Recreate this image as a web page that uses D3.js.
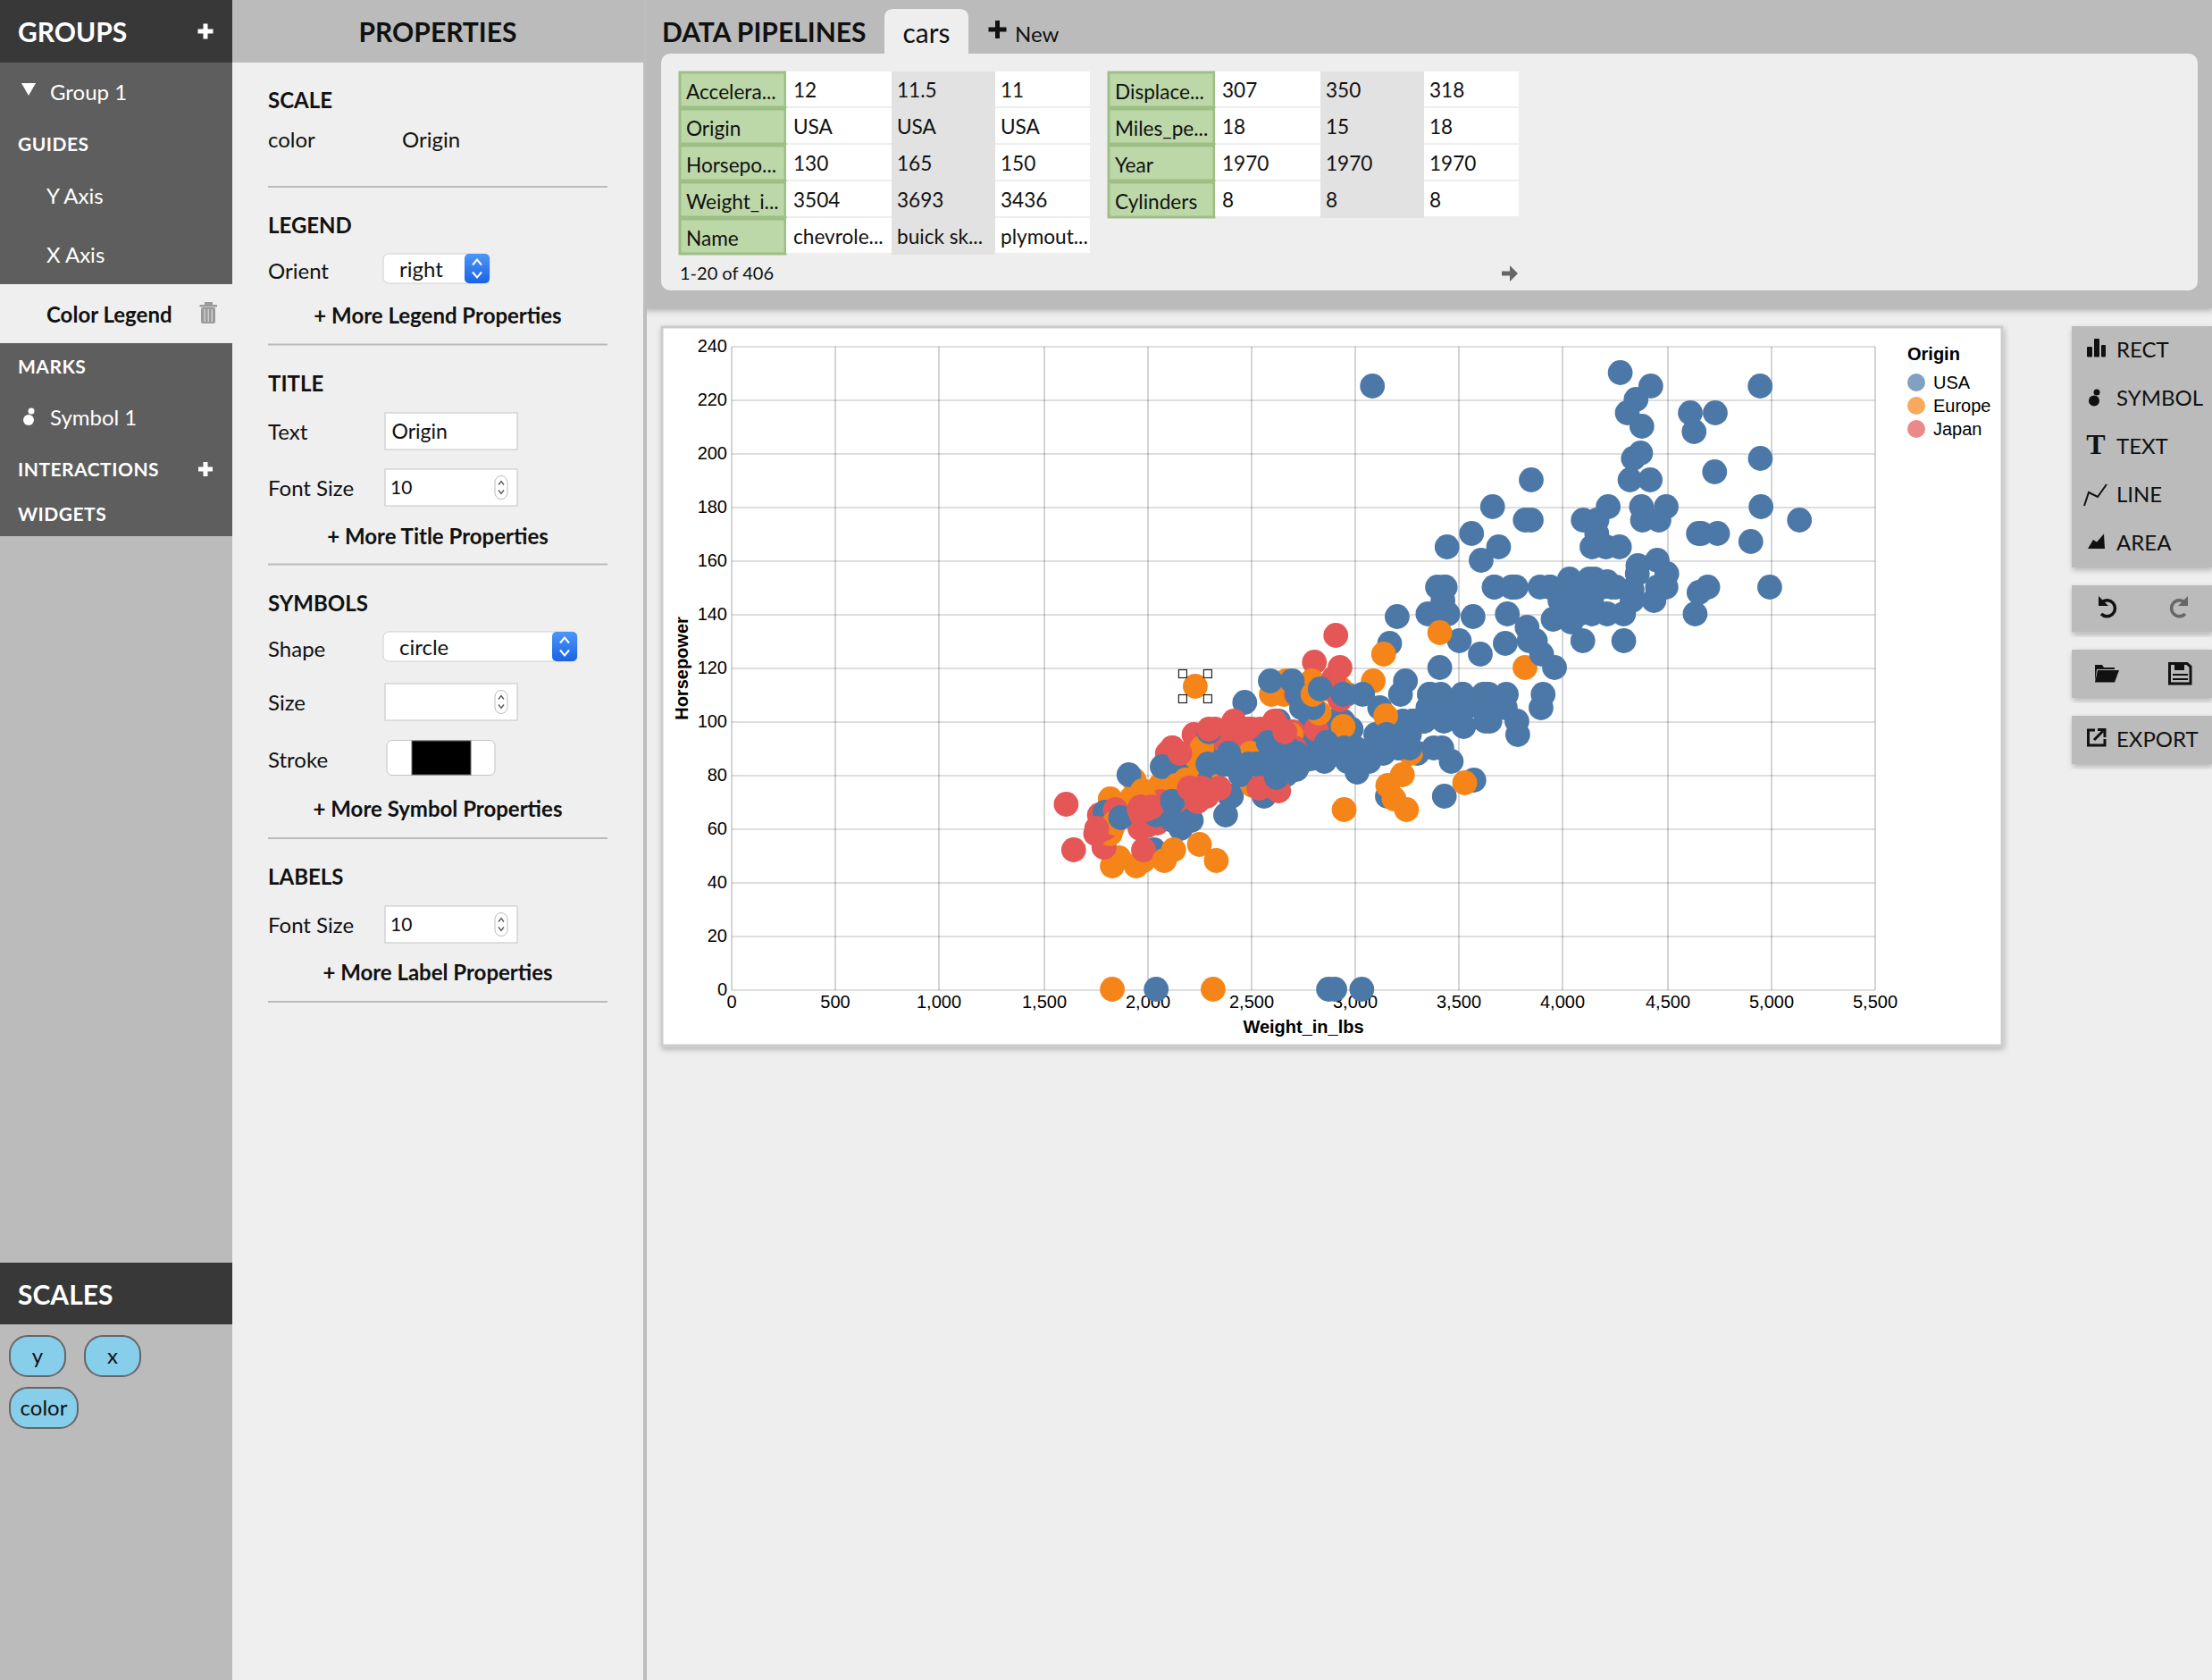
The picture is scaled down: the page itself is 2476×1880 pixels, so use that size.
<!DOCTYPE html>
<html>
<head>
<meta charset="utf-8">
<script src="https://cdn.jsdelivr.net/npm/d3@7"></script>
<style>
html,body{margin:0;padding:0;background:#eee;overflow:hidden}
svg{display:block}
text{font-family:Lato,sans-serif;white-space:pre}
.vega text{font-family:"Liberation Sans",Arial,sans-serif}
</style>
</head>
<body>
<svg id="app" width="2476" height="1880"></svg>
<script>
// ---------- chart data (draw order) ----------
const origins = ["USA", "Europe", "Japan"];
const originColors = ["#4c78a8", "#f58518", "#e45756"];
const xTicks = [0,500,1000,1500,2000,2500,3000,3500,4000,4500,5000,5500];
const yTicks = [0,20,40,60,80,100,120,140,160,180,200,220,240];
const horsepower = [
130,165,150,150,140,198,220,215,225,190,
115,165,153,175,175,170,160,140,150,225,
95,95,97,85,88,46,87,90,95,113,
90,215,200,210,193,88,90,95,null,48,100,
105,100,88,100,165,175,153,150,180,170,
175,110,72,100,88,86,90,70,76,65,
69,60,70,95,80,54,90,86,165,175,
150,153,150,208,155,160,190,97,150,130,
140,150,112,76,87,69,86,92,97,80,
88,175,150,145,137,150,198,150,158,150,
215,225,175,105,100,100,88,95,46,150,
167,170,180,100,88,72,94,90,85,107,
90,145,230,49,75,91,112,150,110,122,
180,95,null,100,100,67,80,65,75,100,
110,105,140,150,150,140,150,83,67,78,
52,61,75,75,75,97,93,67,95,105,
72,72,170,145,150,148,110,105,110,95,
110,110,129,75,83,100,78,96,71,97,
97,70,90,95,88,98,115,53,86,81,
92,79,83,140,150,120,152,100,105,81,
90,52,60,70,53,100,78,110,95,71,
70,75,72,102,150,88,108,120,180,145,
130,150,68,80,58,96,70,145,110,145,
130,110,105,100,98,180,170,190,149,78,
88,75,89,63,83,67,78,97,110,110,
48,66,52,70,60,110,140,139,105,95,
90,85,88,100,90,105,85,110,120,145,165,
139,140,68,95,97,75,95,105,85,97,
103,125,115,133,71,68,115,85,88,90,
110,130,129,138,135,155,142,125,150,71,
65,80,80,77,125,71,90,70,70,65,
69,90,115,115,90,76,60,70,65,90,
88,90,90,78,75,92,75,65,105,
65,48,48,67,67,67,null,67,62,132,
100,88,null,72,84,84,92,110,84,58,
64,60,67,65,62,68,63,65,65,74,
null,75,75,100,74,80,110,76,116,120,
110,105,88,85,88,88,88,85,84,84,
92,null,74,68,68,63,70,88,75,70,
67,67,67,110,85,92,112,96,84,90,
86,52,84,79,82
];
const weightInLbs = [
3504,3693,3436,3433,3449,4341,4354,4312,4425,3850,
3090,4142,4034,4166,3850,3563,3609,3353,3761,3086,
2372,2833,2774,2587,2130,1835,2672,2430,2375,2234,
2648,4615,4376,4382,4732,2130,2264,2228,2046,1978,2634,
3439,3329,3302,3288,4209,4464,4154,4096,4955,4746,
5140,2962,2408,3282,3139,2220,2123,2074,2065,1773,
1613,1834,1955,2278,2126,2254,2408,2226,4274,4385,
4135,4129,3672,4633,4502,4456,4422,2330,3892,4098,
4294,4077,2933,2511,2979,2189,2395,2288,2506,2164,
2100,4100,3672,3988,4042,3777,4952,4464,4363,4237,
4735,4951,3821,3121,3278,2945,3021,3158,1950,4997,
4906,4654,4499,2789,2279,2401,2379,2124,2310,2472,
2265,4082,4278,1867,2158,2582,2868,3399,2660,2807,
3664,3102,2875,2901,3336,1950,2451,1836,2542,3781,
3632,3613,4141,4699,4457,4638,4257,2219,1963,2300,
1649,2003,2125,2108,2246,2489,2391,2000,3264,3459,
3432,3158,4668,4440,4498,4657,3907,3897,3730,3785,
3039,3221,3169,2171,2639,2914,2592,2702,2223,2545,
2984,1937,3211,2694,2957,2945,2671,1795,2464,2220,
2572,2255,2202,4215,4190,3962,4215,3233,3353,3012,
3085,2035,2164,1937,1795,3651,3574,3645,3193,1825,
1990,2155,2565,3150,3940,3270,2930,3820,4380,4055,
3870,3755,2045,2155,1825,2300,1945,4335,3520,4140,
4295,3520,3425,3630,3525,4220,4165,4325,4335,1940,
2740,2265,2755,2051,2075,1985,2190,2815,2600,2720,
1985,1800,1985,2070,1800,3365,3735,3570,3535,3155,
2711,2965,2720,3430,3210,3380,3070,3620,3410,3425,3445,
3205,4080,2155,2560,2300,2230,2515,2745,2855,2405,
2830,3140,2795,3410,1990,2135,3245,2990,2890,3265,
3360,3840,3725,3955,3830,4360,4054,3605,3940,1925,
1975,1915,2670,3530,3900,3190,3420,2200,2150,2020,
2130,2670,2595,2700,2556,2144,1968,2120,2019,2678,
2870,3003,3381,2188,2542,2434,2265,2110,2800,
2110,2085,2335,2950,3250,1850,1835,2145,1845,2910,
2420,2500,2905,2290,2490,2635,2620,2725,2385,1755,
1875,1760,2065,1975,2050,1985,2215,2045,2380,2190,
2320,2210,2350,2615,2635,3230,2800,3160,2900,2930,
3415,3725,3060,3465,2605,2640,2395,2575,2525,2735,
2865,3035,1980,2025,1970,2125,2125,2160,2205,2245,
1965,1965,1995,2945,3015,2585,2835,2665,2370,2950,
2790,2130,2295,2625,2720
];
const originIndex = [
0,0,0,0,0,0,0,0,0,0,
1,0,0,0,0,0,0,0,0,0,
2,0,0,0,2,1,1,1,1,1,
0,0,0,0,0,2,0,2,0,1,0,
0,0,0,0,0,0,0,0,0,0,
0,0,0,0,0,0,1,1,1,2,
2,1,0,2,0,1,0,0,0,0,
0,0,0,0,0,0,0,2,0,0,
0,0,1,1,1,1,0,2,2,0,
2,0,0,0,0,0,0,0,0,0,
0,0,0,0,0,0,0,0,1,0,
0,0,0,0,2,0,2,2,0,0,
1,0,0,1,1,1,1,0,1,2,
0,0,0,0,0,2,0,2,0,0,
0,0,0,0,0,0,0,1,1,1,
2,2,0,1,1,2,2,1,0,0,
0,0,0,0,0,0,0,0,0,0,
0,0,0,2,0,0,0,2,1,2,
0,1,0,1,1,1,1,2,1,1,
0,0,1,0,0,0,0,0,0,0,
0,0,0,1,2,0,0,0,0,1,
2,2,0,1,0,1,2,1,0,0,
0,0,2,0,1,0,2,0,0,0,
0,0,0,0,0,0,0,0,0,1,
0,2,0,0,0,2,1,2,1,2,
1,0,2,2,2,0,0,0,0,0,
2,0,0,0,0,0,0,0,0,0,0,
0,0,0,2,2,0,2,0,0,2,
1,1,1,1,1,2,0,0,0,0,
0,0,0,0,0,0,0,0,0,1,
2,0,0,1,0,1,0,0,0,2,
1,0,0,0,0,1,2,0,2,0,
0,0,0,1,2,2,2,2,0,
2,1,1,1,1,2,1,2,1,2,
2,1,0,2,0,0,0,0,0,2,
0,2,2,2,2,2,0,0,0,1,
1,2,2,2,2,1,1,1,2,2,
0,0,0,0,0,0,0,0,0,0,
0,0,1,2,2,0,0,2,2,2,
2,2,2,0,0,0,0,2,0,0,
0,1,0,0,0
];
const selectedCar = 29;

// ---------- interface content ----------
const sidebarHeadings = [["GUIDES",161],["MARKS",410],["INTERACTIONS",525],["WIDGETS",575]];
const sidebarItems = [["Y Axis",52,219],["X Axis",52,285],["Group 1",56,103],["Symbol 1",56,467]];
const sectionHeads = [["SCALE",112],["LEGEND",252],["TITLE",429],["SYMBOLS",675],["LABELS",981]];
const propLabels = [["color",156],["Orient",303],["Text",483],["Font Size",546],["Shape",726],["Size",786],["Stroke",850],["Font Size",1035]];
const moreLinks = [["+ More Legend Properties",353],["+ More Title Properties",600],["+ More Symbol Properties",905],["+ More Label Properties",1088]];
const rules = [209,385.5,631.5,938,1121];
const inputs = [[431,462,148,41,"Origin",false],[431,525,148,41,"10",true],[431,765,148,41,"",true],[431,1014,148,41,"10",true]];
const leftTable = [["Accelera...","12","11.5","11"],["Origin","USA","USA","USA"],["Horsepo...","130","165","150"],["Weight_i...","3504","3693","3436"],["Name","chevrole...","buick sk...","plymout..."]];
const rightTable = [["Displace...","307","350","318"],["Miles_pe...","18","15","18"],["Year","1970","1970","1970"],["Cylinders","8","8","8"]];
const tools = [["RECT",391],["SYMBOL",445],["TEXT",499],["LINE",553],["AREA",607]];

// ---------- helpers ----------
const svg = d3.select("#app");
function box(x,y,w,h,fill,extra){
  const r = svg.append("rect").attr("x",x).attr("y",y).attr("width",w).attr("height",h).attr("fill",fill);
  if(extra) for(const k in extra) r.attr(k,extra[k]);
  return r;
}
function label(x,y,t,o){
  o=o||{};
  const s=(o.parent||svg).append("text").attr("x",x).attr("y",y).attr("dy",".36em").text(t)
    .attr("font-size",o.size||24).attr("font-weight",o.weight||400)
    .attr("fill",o.fill||"#111").attr("text-anchor",o.anchor||"start");
  if(o.spacing) s.attr("letter-spacing",o.spacing);
  return s;
}
function plus(cx,cy,fill,s){
  s=s||17;
  box(cx-s/2,cy-2.5,s,5,fill); box(cx-2.5,cy-s/2,5,s,fill);
}
function icon(d,fill,stroke,sw){
  return svg.append("path").attr("d",d).attr("fill",fill||"none").attr("stroke",stroke||"none").attr("stroke-width",sw||0);
}
const defs = svg.append("defs");
const sh = defs.append("filter").attr("id","sh").attr("x","-5%").attr("y","-5%").attr("width","110%").attr("height","115%");
sh.append("feDropShadow").attr("dx",1).attr("dy",3).attr("stdDeviation",3).attr("flood-color","#000").attr("flood-opacity",.25);
const blue = defs.append("linearGradient").attr("id","blue").attr("x1",0).attr("x2",0).attr("y1",0).attr("y2",1);
blue.append("stop").attr("offset",0).attr("stop-color","#4d96f7");
blue.append("stop").attr("offset",1).attr("stop-color","#1a63e6");

// ---------- page frame ----------
box(0,0,2476,1880,"#eeeeee");
box(720,0,1756,345,"#bbbbbb",{filter:"url(#sh)"});
box(260,0,460,1880,"#efefef");
box(720,0,4,1880,"#bdbdbd");
box(260,0,460,70,"#bbbbbb");
box(0,0,260,1880,"#bbbbbb");
box(0,0,260,70,"#383838");
box(0,70,260,530,"#5e5e5e");
box(0,318,260,66,"#efefef");
box(0,1413,260,69,"#383838");

// ---------- sidebar ----------
label(20,36,"GROUPS",{size:30,weight:700,fill:"#fff"});
plus(230,35,"#fff");
icon("M24 93H40L32 107Z","#fff");
sidebarItems.forEach(d=>label(d[1],d[2],d[0],{fill:"#fff"}));
sidebarHeadings.forEach(d=>label(20,d[1],d[0],{size:21,weight:700,fill:"#fff",spacing:.5}));
label(52,352,"Color Legend",{weight:700});
box(225,344,16,18,"#9a9a9a",{rx:2}); box(223.5,341,19.5,2.5,"#9a9a9a");
box(229,338,9,3,"#9a9a9a");
[229,233,237].forEach(v=>box(v-.5,346,1.5,14,"#cfcfcf"));
plus(230,525,"#fff",16);
svg.append("circle").attr("cx",32).attr("cy",470).attr("r",6).attr("fill","#fff");
svg.append("circle").attr("cx",35).attr("cy",460).attr("r",3.5).attr("fill","#fff");
label(20,1449,"SCALES",{size:30,weight:700,fill:"#fff"});
[[11,1495,62,45,"y"],[95,1495,62,45,"x"],[11,1553,76,45,"color"]].forEach(p=>{
  box(p[0],p[1],p[2],p[3],"#87ceeb",{rx:20,stroke:"#666","stroke-width":2});
  label(p[0]+p[2]/2,p[1]+p[3]/2,p[4],{anchor:"middle"});
});

// ---------- properties panel ----------
label(490,36,"PROPERTIES",{size:30,weight:700,anchor:"middle"});
sectionHeads.forEach(d=>label(300,d[1],d[0],{weight:700}));
propLabels.forEach(d=>label(300,d[1],d[0]));
label(450,156,"Origin");
moreLinks.forEach(d=>label(490,d[1],d[0],{weight:700,anchor:"middle"}));
rules.forEach(y=>box(300,y-1,380,2,"#bbbbbb"));
function selectBox(x,y,w,h,t){
  box(x,y,w,h,"#fff",{rx:6,stroke:"#cfcfcf","stroke-width":1});
  box(x+w-28,y,28,h,"url(#blue)",{rx:5});
  const cx=x+w-14,cy=y+h/2;
  icon(`M${cx-5} ${cy-4}L${cx} ${cy-10}L${cx+5} ${cy-4}M${cx-5} ${cy+4}L${cx} ${cy+10}L${cx+5} ${cy+4}`,"none","#fff",2);
  label(x+18,cy+1,t);
}
selectBox(429,284,119,33,"right");
selectBox(429,707,217,33,"circle");
inputs.forEach(p=>{
  box(p[0],p[1],p[2],p[3],"#fff",{stroke:"#c4c4c4","stroke-width":1});
  label(p[0]+(p[5]?6:7.5),p[1]+p[3]/2,p[4],{size:p[5]?21:23});
  if(p[5]){
    const cx=p[0]+130,cy=p[1]+p[3]/2;
    box(cx-7,cy-13,14,26,"#fff",{rx:7,stroke:"#bbb","stroke-width":1});
    icon(`M${cx-3} ${cy-3}L${cx} ${cy-7}L${cx+3} ${cy-3}M${cx-3} ${cy+3}L${cx} ${cy+7}L${cx+3} ${cy+3}`,"none","#555",1.3);
  }
});
box(433,828.5,121,39,"#fff",{rx:6,stroke:"#c4c4c4","stroke-width":1});
box(461,829,66,38,"#000",{stroke:"#666","stroke-width":1});

// ---------- data pipelines ----------
label(741,36,"DATA PIPELINES",{size:30,weight:700});
svg.append("path").attr("d","M990 60V20Q990 10 1000 10H1074Q1084 10 1084 20V60Z").attr("fill","#eeeeee");
label(1037,37,"cars",{size:30,anchor:"middle"});
plus(1116.5,33,"#111",20);
label(1136,38,"New");
box(740,60,1720,265,"#eeeeee",{rx:10});
function dataTable(rows,xs){
  rows.forEach((r,i)=>{
    const y=80+i*41;
    box(xs[0]+1,y+1,xs[1]-xs[0]-2,39,"#bdd8a8",{stroke:"#9dbf86","stroke-width":3});
    label(xs[0]+8,y+22.5,r[0],{size:22.6});
    for(let c=1;c<4;c++){
      box(xs[c],y,xs[c+1]-xs[c],c===2?41:39,c===2?"#e2e2e2":"#fff");
      label(xs[c]+(c===1?8:6),y+20.5,r[c],{size:22.6});
    }
  });
}
dataTable(leftTable,[760,880,998,1114,1220]);
dataTable(rightTable,[1240,1360,1478,1594,1700]);
label(761,306,"1-20 of 406",{size:20});
icon("M1681 303.5H1690V297L1699 306L1690 315V308.5H1681Z","#666");

// ---------- chart panel ----------
box(741,366,1500,804,"#fff",{stroke:"#ccc","stroke-width":3,filter:"url(#sh)"});
const x = d3.scaleLinear().domain([0,5500]).range([818,2098]);
const y = d3.scaleLinear().domain([0,240]).range([1107,387]);
// the grid sits one pixel off the marks and snaps to even pixels, as the original's does
const xGrid = d3.scaleLinear().domain([0,5500]).range([819,2099]).interpolate((a,b)=>t=>a+2*Math.round((b-a)*t/2));
const yGrid = d3.scaleLinear().domain([0,240]).range([1108,388]);
const vega = svg.append("g").attr("class","vega");
const xAxis = vega.append("g").attr("transform","translate(0,1108)")
  .call(d3.axisBottom(xGrid).offset(0).tickValues(xTicks).tickFormat(d3.format(",")).tickSize(-720).tickPadding(6));
const yAxis = vega.append("g").attr("transform","translate(819,0)")
  .call(d3.axisLeft(yGrid).offset(0).tickValues(yTicks).tickSize(-1280).tickPadding(5));
[xAxis,yAxis].forEach((a,i)=>{
  a.select(".domain").remove();
  a.selectAll("line").attr("stroke","#000").attr("stroke-opacity",i?.13:.17).attr("stroke-width",2);
  a.selectAll("text").attr("font-size",20).attr("fill","#000").attr("font-family","Liberation Sans");
});
vega.append("text").attr("x",1459).attr("y",1155.5).attr("text-anchor","middle").attr("font-size",20).attr("font-weight",700).text("Weight_in_lbs");
vega.append("text").attr("transform","translate(770,748) rotate(-90)").attr("text-anchor","middle").attr("font-size",20).attr("font-weight",700).text("Horsepower");
vega.append("g").selectAll("circle").data(d3.range(horsepower.length)).join("circle")
  .attr("cx",i=>x(weightInLbs[i])).attr("cy",i=>y(horsepower[i]??0))
  .attr("r",13.9).attr("fill",i=>originColors[originIndex[i]]);
const hx=x(weightInLbs[selectedCar]),hy=y(horsepower[selectedCar]);
[[-1,-1],[1,-1],[-1,1],[1,1]].forEach(s=>{
  vega.append("rect").attr("x",hx+s[0]*14-4.5).attr("y",hy+s[1]*14-4.5).attr("width",9).attr("height",9)
    .attr("fill","#fff").attr("stroke","#222").attr("stroke-width",1.2);
});
vega.append("text").attr("x",2135).attr("y",403).attr("font-size",20).attr("font-weight",700).text("Origin");
origins.forEach((o,i)=>{
  vega.append("circle").attr("cx",2145).attr("cy",428+i*26).attr("r",10).attr("fill",originColors[i]).attr("opacity",.7);
  vega.append("text").attr("x",2164).attr("y",435+i*26).attr("font-size",20).text(o);
});

// ---------- tool buttons ----------
[[365,270],[655,52.5],[727,54],[801,54]].forEach(b=>box(2319,b[0],157,b[1],"#bbbbbb",{filter:"url(#sh)"}));
tools.forEach(t=>label(2369,t[1],t[0]));
label(2369,827,"EXPORT");
box(2336,388,6,11.5,"#111",{rx:1});box(2344,379,6,20.5,"#111",{rx:1});box(2352,386,5,13.5,"#111",{rx:1});
svg.append("circle").attr("cx",2344).attr("cy",448.5).attr("r",6).attr("fill","#111");
svg.append("circle").attr("cx",2347).attr("cy",439).attr("r",3.5).attr("fill","#111");
svg.append("text").attr("x",2346).attr("y",508).attr("text-anchor","middle").style("font-family","Liberation Serif").attr("font-weight",700).attr("font-size",32).attr("fill","#111").text("T");
icon("M2333 566L2338 551L2348 556L2358 542","none","#111",2);
icon("M2337 614L2343 604L2347 606.5L2355 597.5L2356 614Z","#111");
icon("M2352.5 674A9 9 0 1 1 2352 687","none","#111",3.5);
icon("M2349 667V678H2360Z","#111");
icon("M2445.5 674A9 9 0 1 0 2446 687","none","#666",3.5);
icon("M2449 667V678H2438Z","#666");
icon("M2348 750H2372L2367 763.5H2345Z","#111");
icon("M2345 763V744H2353L2355 747H2367V749H2347Z","#111");
icon("M2428.5 742.5H2448L2452 746V765H2428.5Z","none","#111",3);
box(2434,742,11,8,"#111");box(2432,754,17,2,"#111");box(2432,759,17,2,"#111");
icon("M2345 817H2337.5V834H2356V827","none","#111",3);
icon("M2344 828L2354 818M2348 816.5H2356V825","none","#111",3);
</script>
</body>
</html>
